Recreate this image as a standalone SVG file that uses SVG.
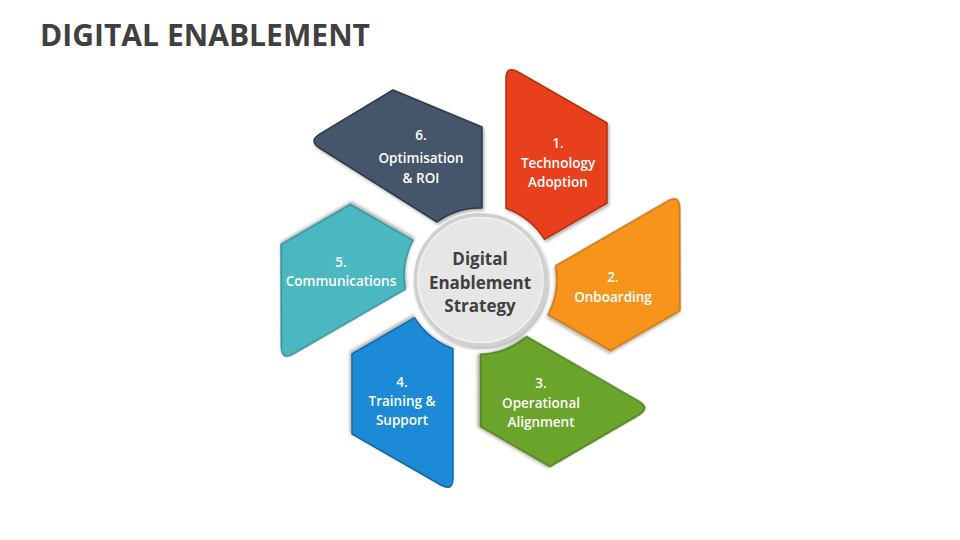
<svg xmlns="http://www.w3.org/2000/svg" width="960" height="540" viewBox="0 0 960 540">
<style>
.t{font-family:"Open Sans","Liberation Sans",sans-serif;font-size:13.5px;font-weight:600;fill:#ffffff;text-anchor:middle}
.c{font-family:"Open Sans","Liberation Sans",sans-serif;font-size:17px;font-weight:bold;fill:#404040;text-anchor:middle}
.p{stroke-width:1.5;stroke-linejoin:round;filter:url(#sh)}
</style>
<defs>
<filter id="sh" x="-20%" y="-20%" width="140%" height="140%">
<feDropShadow dx="1.5" dy="2" stdDeviation="1.8" flood-color="#000" flood-opacity="0.3"/>
</filter>
<path id="petal" d="M 25,-71.8 L 25,-201 Q 25,-215 37.1,-208 L 126,-157 L 126,-77 L 63.5,-40.7 A 76 76 0 0 0 25,-71.8 Z"/>
</defs>
<rect width="960" height="540" fill="#ffffff"/>
<text x="40" y="46" font-family="'Open Sans','Liberation Sans',sans-serif" font-size="30" font-weight="bold" fill="#404040" textLength="330" lengthAdjust="spacingAndGlyphs">DIGITAL ENABLEMENT</text>
<g id="connectors"></g>
<g id="node1">
<use href="#petal" class="p" transform="translate(481,280) rotate(0)" fill="#E8401A" stroke="#B3300F"/>
<text class="t" x="558" y="148">1.</text>
<text class="t" x="558" y="168">Technology</text>
<text class="t" x="558" y="187">Adoption</text>
</g>
<g id="node2">
<use href="#petal" class="p" transform="translate(481,280) rotate(60)" fill="#F7941D" stroke="#C77314"/>
<text class="t" x="613" y="282">2.</text>
<text class="t" x="613" y="302">Onboarding</text>
</g>
<g id="node3">
<use href="#petal" class="p" transform="translate(477,279) rotate(120)" fill="#6AA42A" stroke="#4E7E1C"/>
<text class="t" x="541" y="388">3.</text>
<text class="t" x="541" y="408">Operational</text>
<text class="t" x="541" y="427">Alignment</text>
</g>
<g id="node4">
<use href="#petal" class="p" transform="translate(478,277) rotate(180)" fill="#1A8AD6" stroke="#1369A5"/>
<text class="t" x="402" y="387">4.</text>
<text class="t" x="402" y="406">Training &amp;</text>
<text class="t" x="402" y="425">Support</text>
</g>
<g id="node5">
<use href="#petal" class="p" transform="translate(480,275) rotate(240)" fill="#4CB8C1" stroke="#378E95"/>
<text class="t" x="341" y="267">5.</text>
<text class="t" x="341" y="286">Communications</text>
</g>
<g id="node6">
<path class="p" d="M 437,222 L 319.9,148.4 Q 308,141 320,133.8 L 393,90 L 482,127 L 482,208 A 72.5 72.5 0 0 0 437,222 Z" fill="#44546A" stroke="#2E3A4A"/>
<text class="t" x="421" y="140">6.</text>
<text class="t" x="421" y="163">Optimisation</text>
<text class="t" x="421" y="183">&amp; ROI</text>
</g>
<g id="center">
<circle cx="480.5" cy="280" r="65" fill="#E6E6E6" stroke="#D0D0D0" stroke-width="4" filter="url(#sh)"/>
<circle cx="480.5" cy="280" r="62.5" fill="none" stroke="#F2F2F2" stroke-width="1.5"/>
<text class="c" x="480" y="265">Digital</text>
<text class="c" x="480" y="289">Enablement</text>
<text class="c" x="480" y="312">Strategy</text>
</g>
</svg>
